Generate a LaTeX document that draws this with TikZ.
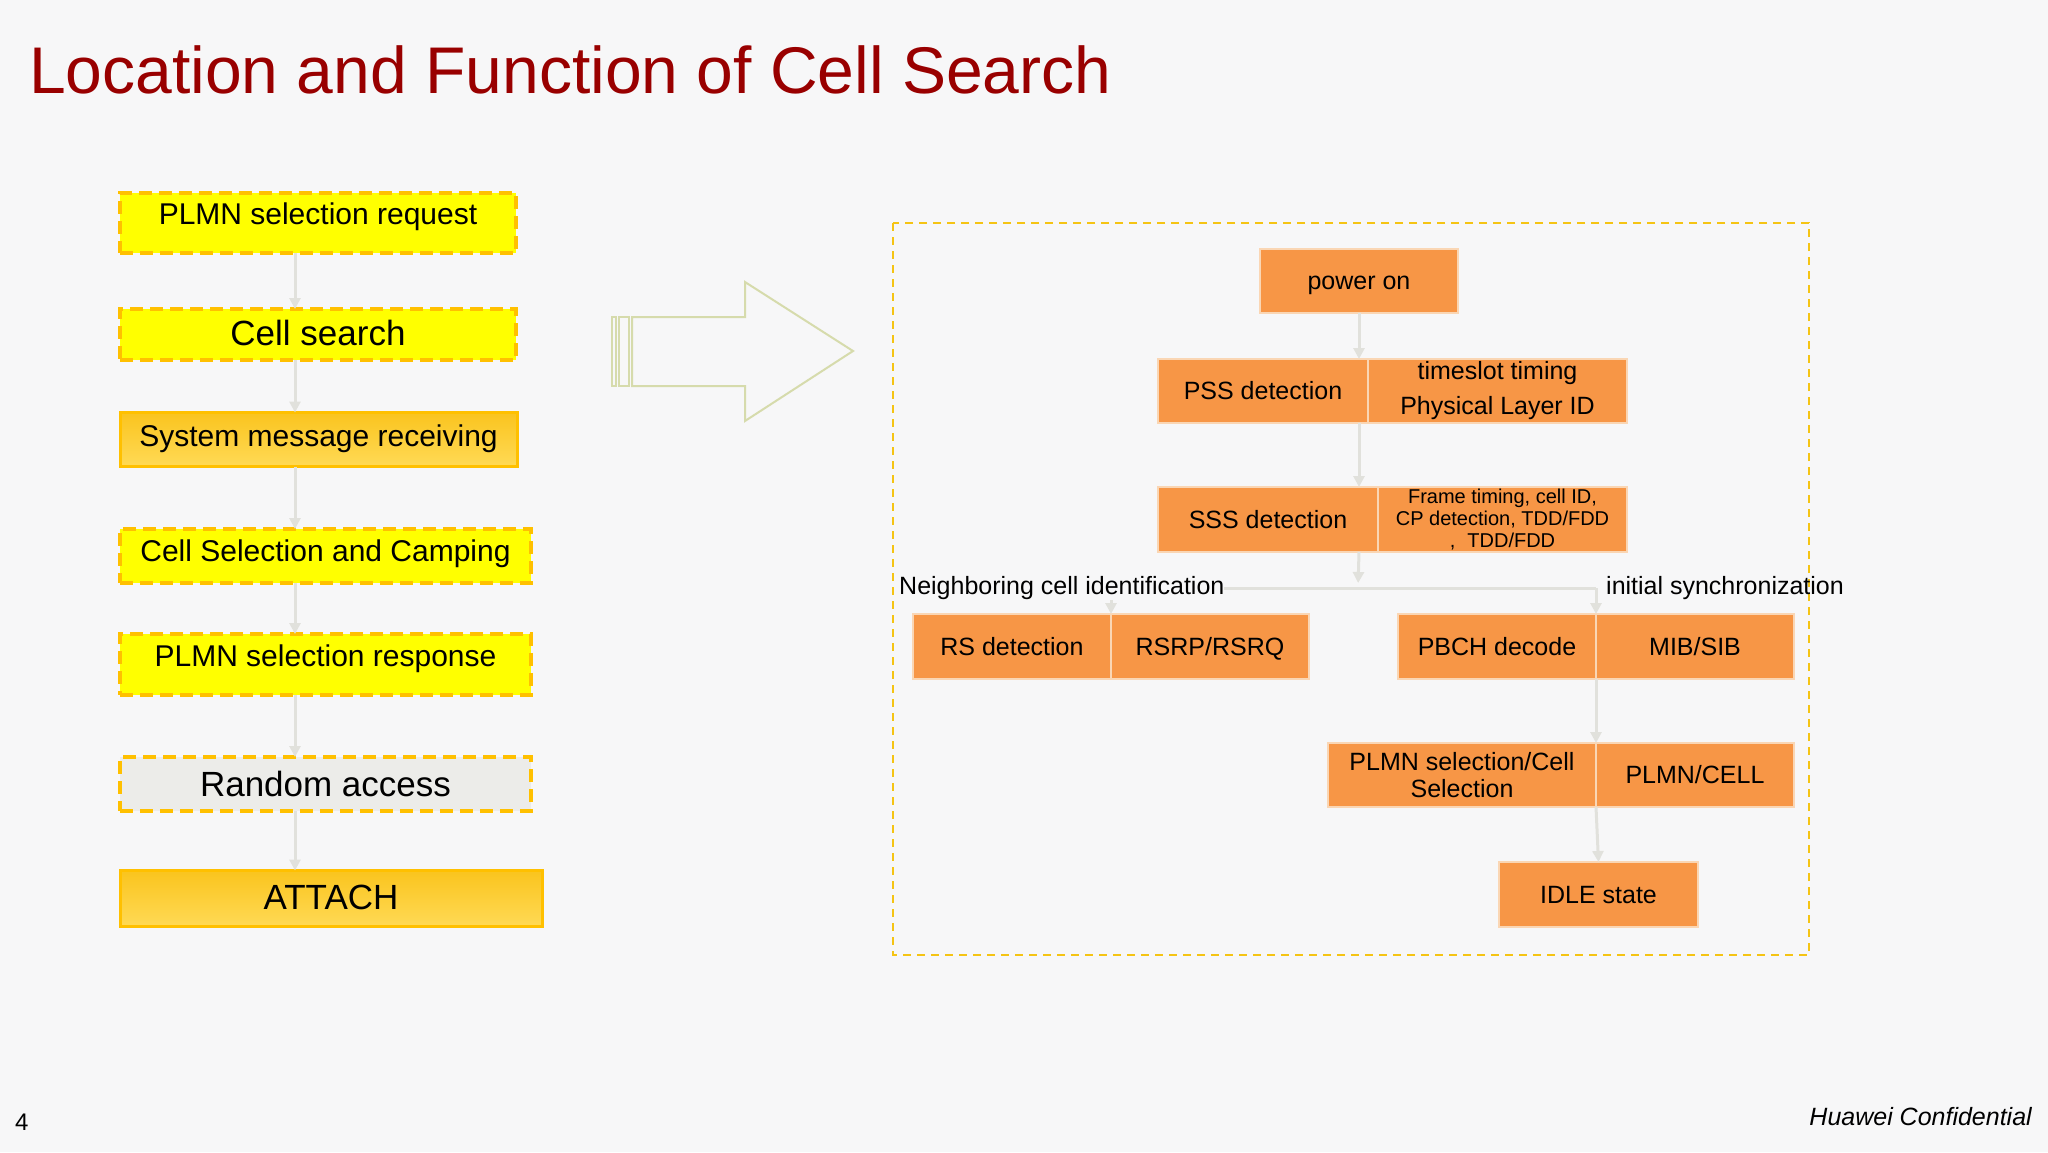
\documentclass[tikz,border=0pt]{standalone}
\usepackage{fontspec}
\setmainfont{Liberation Sans}
\usepackage{tikz}
\usetikzlibrary{arrows.meta,positioning}
\definecolor{titlered}{RGB}{153,0,0}
\definecolor{boxyellow}{RGB}{255,255,0}
\definecolor{edgegold}{RGB}{255,192,0}
\definecolor{goldtop}{RGB}{250,196,30}
\definecolor{goldbottom}{RGB}{255,218,86}
\definecolor{noisegray}{RGB}{236,236,233}
\definecolor{cellorange}{RGB}{247,150,70}
\definecolor{celledge}{RGB}{250,214,180}
\definecolor{linkgray}{RGB}{225,225,220}
\definecolor{arrowolive}{RGB}{214,219,172}
\definecolor{framegold}{RGB}{245,196,20}
\definecolor{pagebg}{RGB}{247,247,248}

\begin{document}
\begin{tikzpicture}[x=1pt, y=-1pt,
    ybox/.style={draw=edgegold, fill=boxyellow, line width=4pt, dash pattern=on 13pt off 7pt, inner sep=0pt, outer sep=0pt, minimum height=54pt, text height=21.5pt, text depth=8pt, font=\fontsize{30}{36}\selectfont},
    gbox/.style={draw=edgegold, top color=goldtop, bottom color=goldbottom, line width=3pt, inner sep=0pt, outer sep=0pt, minimum height=54pt, text height=21.5pt, text depth=8pt, font=\fontsize{30}{36}\selectfont},
    rbox/.style={draw=edgegold, fill=noisegray, line width=4pt, dash pattern=on 13pt off 7pt, inner sep=0pt, outer sep=0pt, minimum height=54pt, text height=25pt, text depth=0pt, font=\fontsize{35}{42}\selectfont},
    cell/.style={draw=celledge, fill=cellorange, line width=1.5pt, inner sep=0pt, outer sep=0pt, minimum height=65pt, font=\fontsize{25}{30}\selectfont},
    flat/.style={text height=17.9pt, text depth=0pt},
    link/.style={draw=linkgray, line width=3pt, -{Triangle[length=11pt,width=11pt]}},
    note/.style={inner sep=0pt, font=\fontsize{25}{30}\selectfont}
]
    \fill[pagebg] (0,0) rectangle (2048,1152);
    \useasboundingbox (0,0) rectangle (2048,1152);

    \node[anchor=base west, inner sep=0pt, text=titlered, font=\fontsize{66}{79}\selectfont] (title) at (29,93) {Location and Function of Cell Search};

    % left column
    \node[ybox, minimum width=396pt, minimum height=60pt, text depth=18pt, anchor=north west] (req) at (120,193) {PLMN selection request};
    \node[ybox, minimum width=396pt, minimum height=51pt, font=\fontsize{35}{42}\selectfont, text height=25pt, text depth=4pt, below=56pt of req.south west, anchor=north west] (search) {Cell search};
    \node[gbox, minimum width=397pt, minimum height=54pt, below=52.5pt of search.south west, anchor=north west] (sysmsg) {System message receiving};
    \node[ybox, minimum width=411pt, text depth=10pt, below=62.5pt of sysmsg.south west, anchor=north west] (camp) {Cell Selection and Camping};
    \node[ybox, minimum width=411pt, minimum height=61pt, text depth=17pt, below=51pt of camp.south west, anchor=north west] (resp) {PLMN selection response};
    \node[rbox, minimum width=411pt, below=62pt of resp.south west, anchor=north west] (rach) {Random access};
    \node[gbox, minimum width=422pt, minimum height=56pt, font=\fontsize{35}{42}\selectfont, text height=24.5pt, text depth=2pt, below=59.5pt of rach.south west, anchor=north west] (attach) {ATTACH};

    \coordinate (lx) at (295,0);
    \draw[link] (req.south -| lx) -- (search.north -| lx);
    \draw[link] (search.south -| lx) -- (sysmsg.north -| lx);
    \draw[link] (sysmsg.south -| lx) -- (camp.north -| lx);
    \draw[link] (camp.south -| lx) -- (resp.north -| lx);
    \draw[link] (resp.south -| lx) -- (rach.north -| lx);
    \draw[link] (rach.south -| lx) -- (attach.north -| lx);

    % big hollow arrow
    \draw[arrowolive, line width=2pt] (612,317) rectangle (616,386);
    \draw[arrowolive, line width=2pt] (619,317) rectangle (629,386);
    \draw[arrowolive, line width=2pt] (632,317) -- (745,317) -- (745,282) -- (853,351) -- (745,421) -- (745,386) -- (632,386) -- cycle;

    % cell search detail
    \draw[framegold, line width=2pt, dash pattern=on 8pt off 6pt] (893,223) rectangle (1809,955);

    \node[cell, flat, minimum width=198pt, minimum height=64pt, anchor=north west] (power) at (1260,249) {power on};
    \node[cell, flat, minimum width=210pt, minimum height=64pt, anchor=north west] (pss) at (1158,359) {PSS detection};
    \node[cell, minimum width=259pt, minimum height=64pt, right=0pt of pss, align=center, font=\fontsize{25}{35}\selectfont] (tslot) {timeslot timing\\Physical Layer ID};
    \node[cell, flat, minimum width=220pt, anchor=north west] (sss) at (1158,487) {SSS detection};
    \node[cell, minimum width=249pt, right=0pt of sss, align=center, font=\fontsize{20}{22}\selectfont] (frame) {Frame timing, cell ID,\\CP detection, TDD/FDD\\,\hspace{12pt}TDD/FDD};
    \node[cell, flat, minimum width=198pt, anchor=north west] (rs) at (913,614) {RS detection};
    \node[cell, flat, minimum width=198pt, right=0pt of rs] (rsrp) {RSRP/RSRQ};
    \node[cell, flat, minimum width=198pt, anchor=north west] (pbch) at (1398,614) {PBCH decode};
    \node[cell, flat, minimum width=198pt, right=0pt of pbch] (mib) {MIB/SIB};
    \node[cell, minimum width=268pt, minimum height=64pt, anchor=north west, align=center, font=\fontsize{25}{27}\selectfont] (plmnsel) at (1328,743) {PLMN selection/Cell\\Selection};
    \node[cell, flat, minimum width=198pt, minimum height=64pt, right=0pt of plmnsel] (plmncell) {PLMN/CELL};
    \node[cell, flat, minimum width=199pt, anchor=north west] (idle) at (1499,862) {IDLE state};

    \coordinate (jn) at (1358,588);
    \draw[link] (power.south) -- (power.south |- pss.north);
    \draw[link] (power.south |- pss.south) -- (power.south |- sss.north);
    \draw[link, shorten >=5pt] (power.south |- sss.south) -- (jn);
    \draw[linkgray, line width=3pt] (jn -| rsrp.north west) -- (jn -| mib.north west);
    \draw[link] (jn -| rsrp.north west) -- (rsrp.north west);
    \draw[link] (jn -| mib.north west) -- (mib.north west);
    \draw[link] (mib.south west) -- (plmncell.north west);
    \draw[link] (plmncell.south west) -- (idle.north);

    \node[note, fill=pagebg, anchor=west] (nbr) at (899,588) {Neighboring cell identification};
    \node[note, anchor=west] (init) at (1606,588) {initial synchronization};

    % footer
    \node[anchor=base west, inner sep=0pt, font=\fontsize{24}{28}\selectfont] (pagenum) at (15,1130) {4};
    \node[anchor=base east, inner sep=0pt, font=\fontsize{25}{30}\selectfont\itshape] (conf) at (2032,1125) {Huawei Confidential};
\end{tikzpicture}
\end{document}
